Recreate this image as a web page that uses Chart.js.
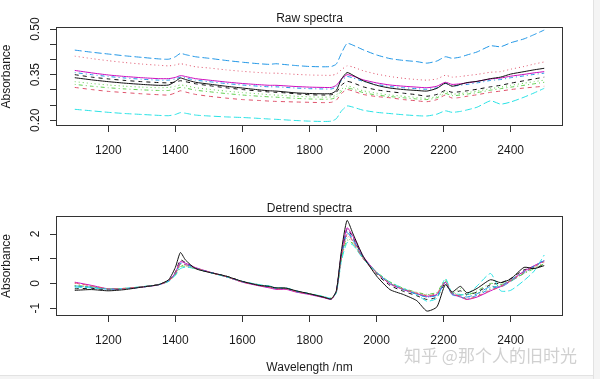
<!DOCTYPE html>
<html>
<head>
<meta charset="utf-8">
<script src="https://cdn.jsdelivr.net/npm/chart.js@4.4.1/dist/chart.umd.min.js"></script>
<style>
  body { margin:0; width:600px; height:379px; overflow:hidden; position:relative; background:#fff;
         font-family: Arial, "Liberation Sans", sans-serif; }
  canvas { position:absolute; left:0; }
  #raw-chart { top:0; }
  #detrend-chart { top:190px; }
  .x-title { position:absolute; left:0; width:619px; top:360px; text-align:center; font-size:12px; color:#1a1a1a; }
  .watermark { position:absolute; left:404px; top:342px; font-size:17px; color:rgba(170,170,170,0.55);
               font-family:"Noto Sans CJK SC", sans-serif; white-space:nowrap; }
  .edge-r { position:absolute; left:593px; top:0; width:7px; height:379px; background:#f4f4f4; border-left:1px solid #e2e2e2; }
  .edge-b { position:absolute; left:0; top:375px; width:593px; height:4px; background:#f4f4f4; border-top:1px solid #e2e2e2; }
</style>
</head>
<body>
<canvas id="raw-chart" width="600" height="190"></canvas>
<canvas id="detrend-chart" width="600" height="189"></canvas>
<div class="x-title">Wavelength /nm</div>
<div class="watermark">知乎 @那个人的旧时光</div>
<div class="edge-r"></div>
<div class="edge-b"></div>
<script>
// ── Data ──────────────────────────────────────────────────────────────────────
const wavelength = [1100,1150,1200,1250,1300,1350,1380,1400,1415,1430,1460,1500,1550,1600,1650,1680,1700,1730,1760,1800,1840,1865,1880,1895,1912,1930,1960,2000,2040,2080,2120,2150,2180,2205,2225,2250,2270,2300,2340,2370,2400,2440,2470,2500];
const xTicks = [1200,1400,1600,1800,2000,2200,2400];

// raw spectra, one array per sample
const raw1  = [.340,.333,.327,.322,.318,.315,.316,.328,.339,.334, .325,.319,.312,.306,.300,.297,.296,.293,.290,.288, .287,.288,.298,.335,.357,.348,.330,.315,.306,.301, .298,.296,.305,.322,.312,.318,.324,.328,.337,.342, .352,.360,.366,.371];
const raw2  = [.308,.301,.295,.291,.287,.284,.283,.290,.297,.293, .285,.279,.273,.268,.265,.263,.262,.261,.260,.259, .258,.259,.266,.288,.301,.296,.285,.278,.274,.268, .264,.261,.268,.283,.273,.275,.279,.284,.292,.296, .301,.306,.309,.312];
const raw3  = [.327,.321,.316,.312,.309,.307,.308,.312,.316,.314, .307,.302,.296,.291,.287,.284,.283,.281,.279,.277, .276,.277,.283,.302,.313,.308,.297,.289,.283,.279, .275,.272,.279,.294,.286,.288,.291,.296,.304,.309, .315,.322,.327,.332];
const raw4  = [.357,.350,.344,.339,.335,.332,.332,.336,.342,.339, .332,.327,.321,.316,.312,.310,.310,.308,.306,.304, .303,.303,.310,.330,.344,.339,.328,.318,.311,.307, .304,.302,.307,.321,.313,.315,.318,.323,.331,.334, .340,.346,.351,.355];
const raw5  = [.236,.231,.226,.222,.219,.216,.215,.219,.225,.223, .217,.214,.211,.209,.206,.204,.203,.201,.199,.197, .196,.197,.205,.230,.247,.243,.233,.226,.222,.218, .215,.214,.220,.231,.226,.229,.234,.243,.264,.253, .260,.276,.290,.305];
const raw6  = [.364,.356,.349,.344,.340,.337,.337,.341,.347,.344, .337,.332,.326,.321,.317,.315,.315,.313,.311,.309, .308,.308,.315,.335,.350,.345,.333,.323,.316,.312, .309,.307,.312,.325,.318,.320,.323,.328,.336,.339, .345,.351,.356,.360];
const raw7  = [.350,.342,.336,.331,.327,.324,.323,.326,.330,.327, .320,.314,.307,.301,.296,.293,.292,.290,.287,.284, .283,.284,.292,.315,.328,.323,.310,.300,.294,.289, .284,.279,.285,.298,.292,.294,.297,.302,.310,.315, .322,.330,.336,.342];
const raw8  = [.411,.403,.396,.390,.385,.381,.379,.382,.386,.383, .376,.372,.366,.361,.357,.355,.355,.353,.351,.349, .348,.348,.352,.366,.379,.375,.363,.352,.344,.338, .334,.332,.336,.348,.342,.344,.347,.351,.358,.360, .368,.377,.385,.392];
const raw9  = [.318,.312,.307,.303,.300,.298,.298,.303,.308,.306, .299,.294,.288,.283,.279,.277,.276,.274,.272,.270, .269,.270,.276,.295,.306,.302,.291,.283,.278,.274, .270,.268,.274,.288,.281,.283,.286,.291,.299,.304, .309,.315,.320,.325];
const raw10 = [.431,.424,.418,.412,.407,.402,.401,.409,.420,.416, .409,.404,.397,.391,.386,.384,.386,.383,.380,.377, .376,.377,.385,.420,.453,.447,.432,.415,.403,.397, .393,.388,.395,.409,.404,.408,.415,.425,.445,.442, .455,.468,.482,.497];

// detrended spectra
const det1  = [-0.28,-0.25,-0.30,-0.25,-0.15,-0.05,0.15,0.65,1.25,0.95, 0.60,0.45,0.30,0.08,-0.08,-0.12,-0.18,-0.19,-0.30,-0.42, -0.55,-0.63,-0.30,1.30,2.55,2.00,1.10,0.30,-0.25,-0.45, -0.70,-1.12,-0.95,-0.05,-0.35,-0.12,-0.38,-0.20,0.15,0.03, 0.18,0.65,0.60,0.72];
const det2  = [0.02,-0.10,-0.22,-0.20,-0.14,-0.05,0.10,0.40,0.80,0.76, 0.62,0.46,0.28,0.06,-0.08,-0.16,-0.22,-0.22,-0.33,-0.43, -0.55,-0.62,-0.34,1.05,2.00,1.70,1.00,0.42,0.00,-0.24, -0.40,-0.50,-0.42,0.08,-0.40,-0.52,-0.65,-0.52,-0.28,-0.14, 0.10,0.45,0.68,0.88];
const det3  = [-0.10,-0.14,-0.22,-0.20,-0.14,-0.05,0.10,0.36,0.72,0.71, 0.60,0.45,0.28,0.07,-0.06,-0.14,-0.20,-0.20,-0.32,-0.42, -0.54,-0.60,-0.35,1.00,1.85,1.62,1.02,0.46,0.05,-0.22, -0.38,-0.46,-0.38,0.10,-0.42,-0.20,-0.40,-0.40,-0.18,-0.05, 0.12,0.42,0.62,0.78];
const det4  = [-0.12,-0.16,-0.24,-0.21,-0.15,-0.05,0.11,0.40,0.82,0.78, 0.62,0.46,0.28,0.07,-0.07,-0.15,-0.20,-0.21,-0.33,-0.42, -0.55,-0.62,-0.35,1.10,2.10,1.78,1.05,0.44,0.00,-0.26, -0.44,-0.55,-0.48,0.02,-0.45,-0.55,-0.62,-0.48,-0.22,-0.10, 0.14,0.48,0.70,0.92];
const det5  = [-0.15,-0.18,-0.22,-0.20,-0.13,-0.05,0.08,0.33,0.60,0.66, 0.60,0.45,0.27,0.08,-0.05,-0.10,-0.18,-0.18,-0.30,-0.42, -0.52,-0.60,-0.38,0.90,1.65,1.55,1.00,0.45,0.05,-0.20, -0.45,-0.72,-0.60,0.20,-0.38,-0.45,-0.45,-0.10,0.40,-0.30, -0.28,0.12,0.50,1.15];
const det6  = [0.05,-0.08,-0.22,-0.21,-0.15,-0.06,0.10,0.43,0.88,0.82, 0.64,0.47,0.28,0.05,-0.10,-0.18,-0.24,-0.24,-0.35,-0.45, -0.57,-0.64,-0.33,1.20,2.25,1.90,1.10,0.44,-0.02,-0.25, -0.42,-0.52,-0.45,0.05,-0.42,-0.55,-0.65,-0.55,-0.30,-0.12, 0.12,0.50,0.72,0.92];
const det7  = [-0.22,-0.20,-0.26,-0.22,-0.14,-0.04,0.12,0.46,0.95,0.84, 0.62,0.46,0.30,0.08,-0.07,-0.12,-0.19,-0.20,-0.31,-0.42, -0.55,-0.62,-0.32,1.15,2.20,1.85,1.05,0.38,-0.08,-0.32, -0.50,-0.65,-0.55,0.00,-0.40,-0.30,-0.45,-0.35,-0.05,0.02, 0.20,0.55,0.62,0.75];
const det8  = [0.00,-0.12,-0.23,-0.21,-0.15,-0.05,0.10,0.38,0.78,0.74, 0.60,0.45,0.27,0.06,-0.08,-0.16,-0.22,-0.22,-0.33,-0.43, -0.55,-0.62,-0.35,1.05,1.95,1.68,1.02,0.44,0.02,-0.22, -0.38,-0.48,-0.40,0.05,-0.42,-0.50,-0.60,-0.48,-0.25,-0.10, 0.12,0.45,0.66,0.85];
const det9  = [-0.08,-0.14,-0.22,-0.20,-0.14,-0.05,0.09,0.34,0.68,0.69, 0.60,0.45,0.28,0.07,-0.06,-0.14,-0.20,-0.20,-0.32,-0.42, -0.53,-0.60,-0.36,0.95,1.75,1.60,1.02,0.46,0.06,-0.20, -0.36,-0.44,-0.36,0.15,-0.38,-0.45,-0.48,-0.30,0.00,-0.05, 0.10,0.40,0.60,0.80];
const det10 = [-0.10,-0.15,-0.23,-0.21,-0.15,-0.05,0.10,0.38,0.80,0.77, 0.62,0.46,0.28,0.07,-0.07,-0.15,-0.21,-0.21,-0.33,-0.43, -0.55,-0.62,-0.35,1.08,2.05,1.75,1.04,0.44,0.00,-0.25, -0.42,-0.55,-0.46,0.05,-0.45,-0.50,-0.55,-0.42,-0.12,-0.15, 0.08,0.42,0.68,0.95];

// axis ticks
const rawYTicks = [0.20,0.25,0.30,0.35,0.40,0.45,0.50];
const rawYLabels = ["0.20","0.35","0.50"];
const detYTicks = [-1,0,1,2];
const detYLabels = ["-1","0","1","2"];

// ── Styles: R matplot palette / lty cycling ──────────────────────────────────
const palette = ["#111111","#DF536B","#61D04F","#2297E6","#28E2E5","#CD0BBC"];
const dashes = [[], [4,4], [1,3], [1,3,4,3], [7,3]];
const FONT = 'Arial, "Liberation Sans", sans-serif';
const INK = "#1a1a1a";

function makeDatasets(series) {
  return series.map((vals, i) => ({
    data: vals.map((v, k) => ({ x: wavelength[k], y: v })),
    borderColor: palette[i % 6],
    borderDash: dashes[i % 5],
    borderWidth: 1,
    pointRadius: 0,
    tension: 0.2,
    fill: false,
  }));
}

// frame, title and rotated y labels (R style)
const rFrame = {
  id: "rFrame",
  afterDraw(chart, args, opts) {
    const { ctx, chartArea: a, scales } = chart;
    ctx.save();
    ctx.strokeStyle = "#333";
    ctx.lineWidth = 1;
    ctx.strokeRect(Math.round(a.left) + 0.5, Math.round(a.top) + 0.5, Math.round(a.right - a.left) - 1, Math.round(a.bottom - a.top) - 1);

    ctx.fillStyle = INK;
    ctx.font = `12px ${FONT}`;
    ctx.textAlign = "center";
    ctx.textBaseline = "middle";
    ctx.fillText(opts.title, (a.left + a.right) / 2, 19);

    ctx.textBaseline = "alphabetic";
    opts.labels.forEach(t => {
      const py = scales.y.getPixelForValue(parseFloat(t));
      ctx.save();
      ctx.translate(39, py);
      ctx.rotate(-Math.PI / 2);
      ctx.fillText(t, 0, 0);
      ctx.restore();
    });

    ctx.save();
    ctx.translate(10, (a.top + a.bottom) / 2);
    ctx.rotate(-Math.PI / 2);
    ctx.fillText("Absorbance", 0, 0);
    ctx.restore();
    ctx.restore();
  },
};

function drawPanel(id, series, cfg) {
  const ctx = document.getElementById(id).getContext("2d");
  const tickGrid = { drawOnChartArea: false, drawTicks: true, tickLength: 6, color: "#333", lineWidth: 1 };

  new Chart(ctx, {
    type: "line",
    data: { datasets: makeDatasets(series) },
    plugins: [rFrame],
    options: {
      responsive: false,
      animation: false,
      layout: { padding: { left: 0, right: 37, top: cfg.top, bottom: 0 } },
      plugins: {
        legend: { display: false },
        tooltip: { enabled: false },
        rFrame: { title: cfg.title, labels: cfg.yLabels },
      },
      scales: {
        x: {
          type: "linear", min: 1044, max: 2556,
          afterBuildTicks: s => { s.ticks = xTicks.map(v => ({ value: v })); },
          afterFit: s => { s.height = cfg.xHeight; },
          ticks: { color: INK, font: { size: 12, family: FONT }, padding: 11, maxRotation: 0, autoSkip: false,
                   callback: v => String(v) },
          grid: tickGrid,
          border: { display: false },
        },
        y: {
          min: cfg.yMin, max: cfg.yMax,
          afterBuildTicks: s => { s.ticks = cfg.yTicks.map(v => ({ value: v })); },
          afterFit: s => { s.width = 56; },
          ticks: { display: false },
          grid: tickGrid,
          border: { display: false },
        },
      },
    },
  });
}

drawPanel("raw-chart", [raw1, raw2, raw3, raw4, raw5, raw6, raw7, raw8, raw9, raw10], {
  title: "Raw spectra", top: 27, xHeight: 64,
  yMin: 0.181, yMax: 0.507, yTicks: rawYTicks, yLabels: rawYLabels,
});

drawPanel("detrend-chart", [det1, det2, det3, det4, det5, det6, det7, det8, det9, det10], {
  title: "Detrend spectra", top: 26, xHeight: 63,
  yMin: -1.32, yMax: 2.73, yTicks: detYTicks, yLabels: detYLabels,
});
</script>
</body>
</html>
